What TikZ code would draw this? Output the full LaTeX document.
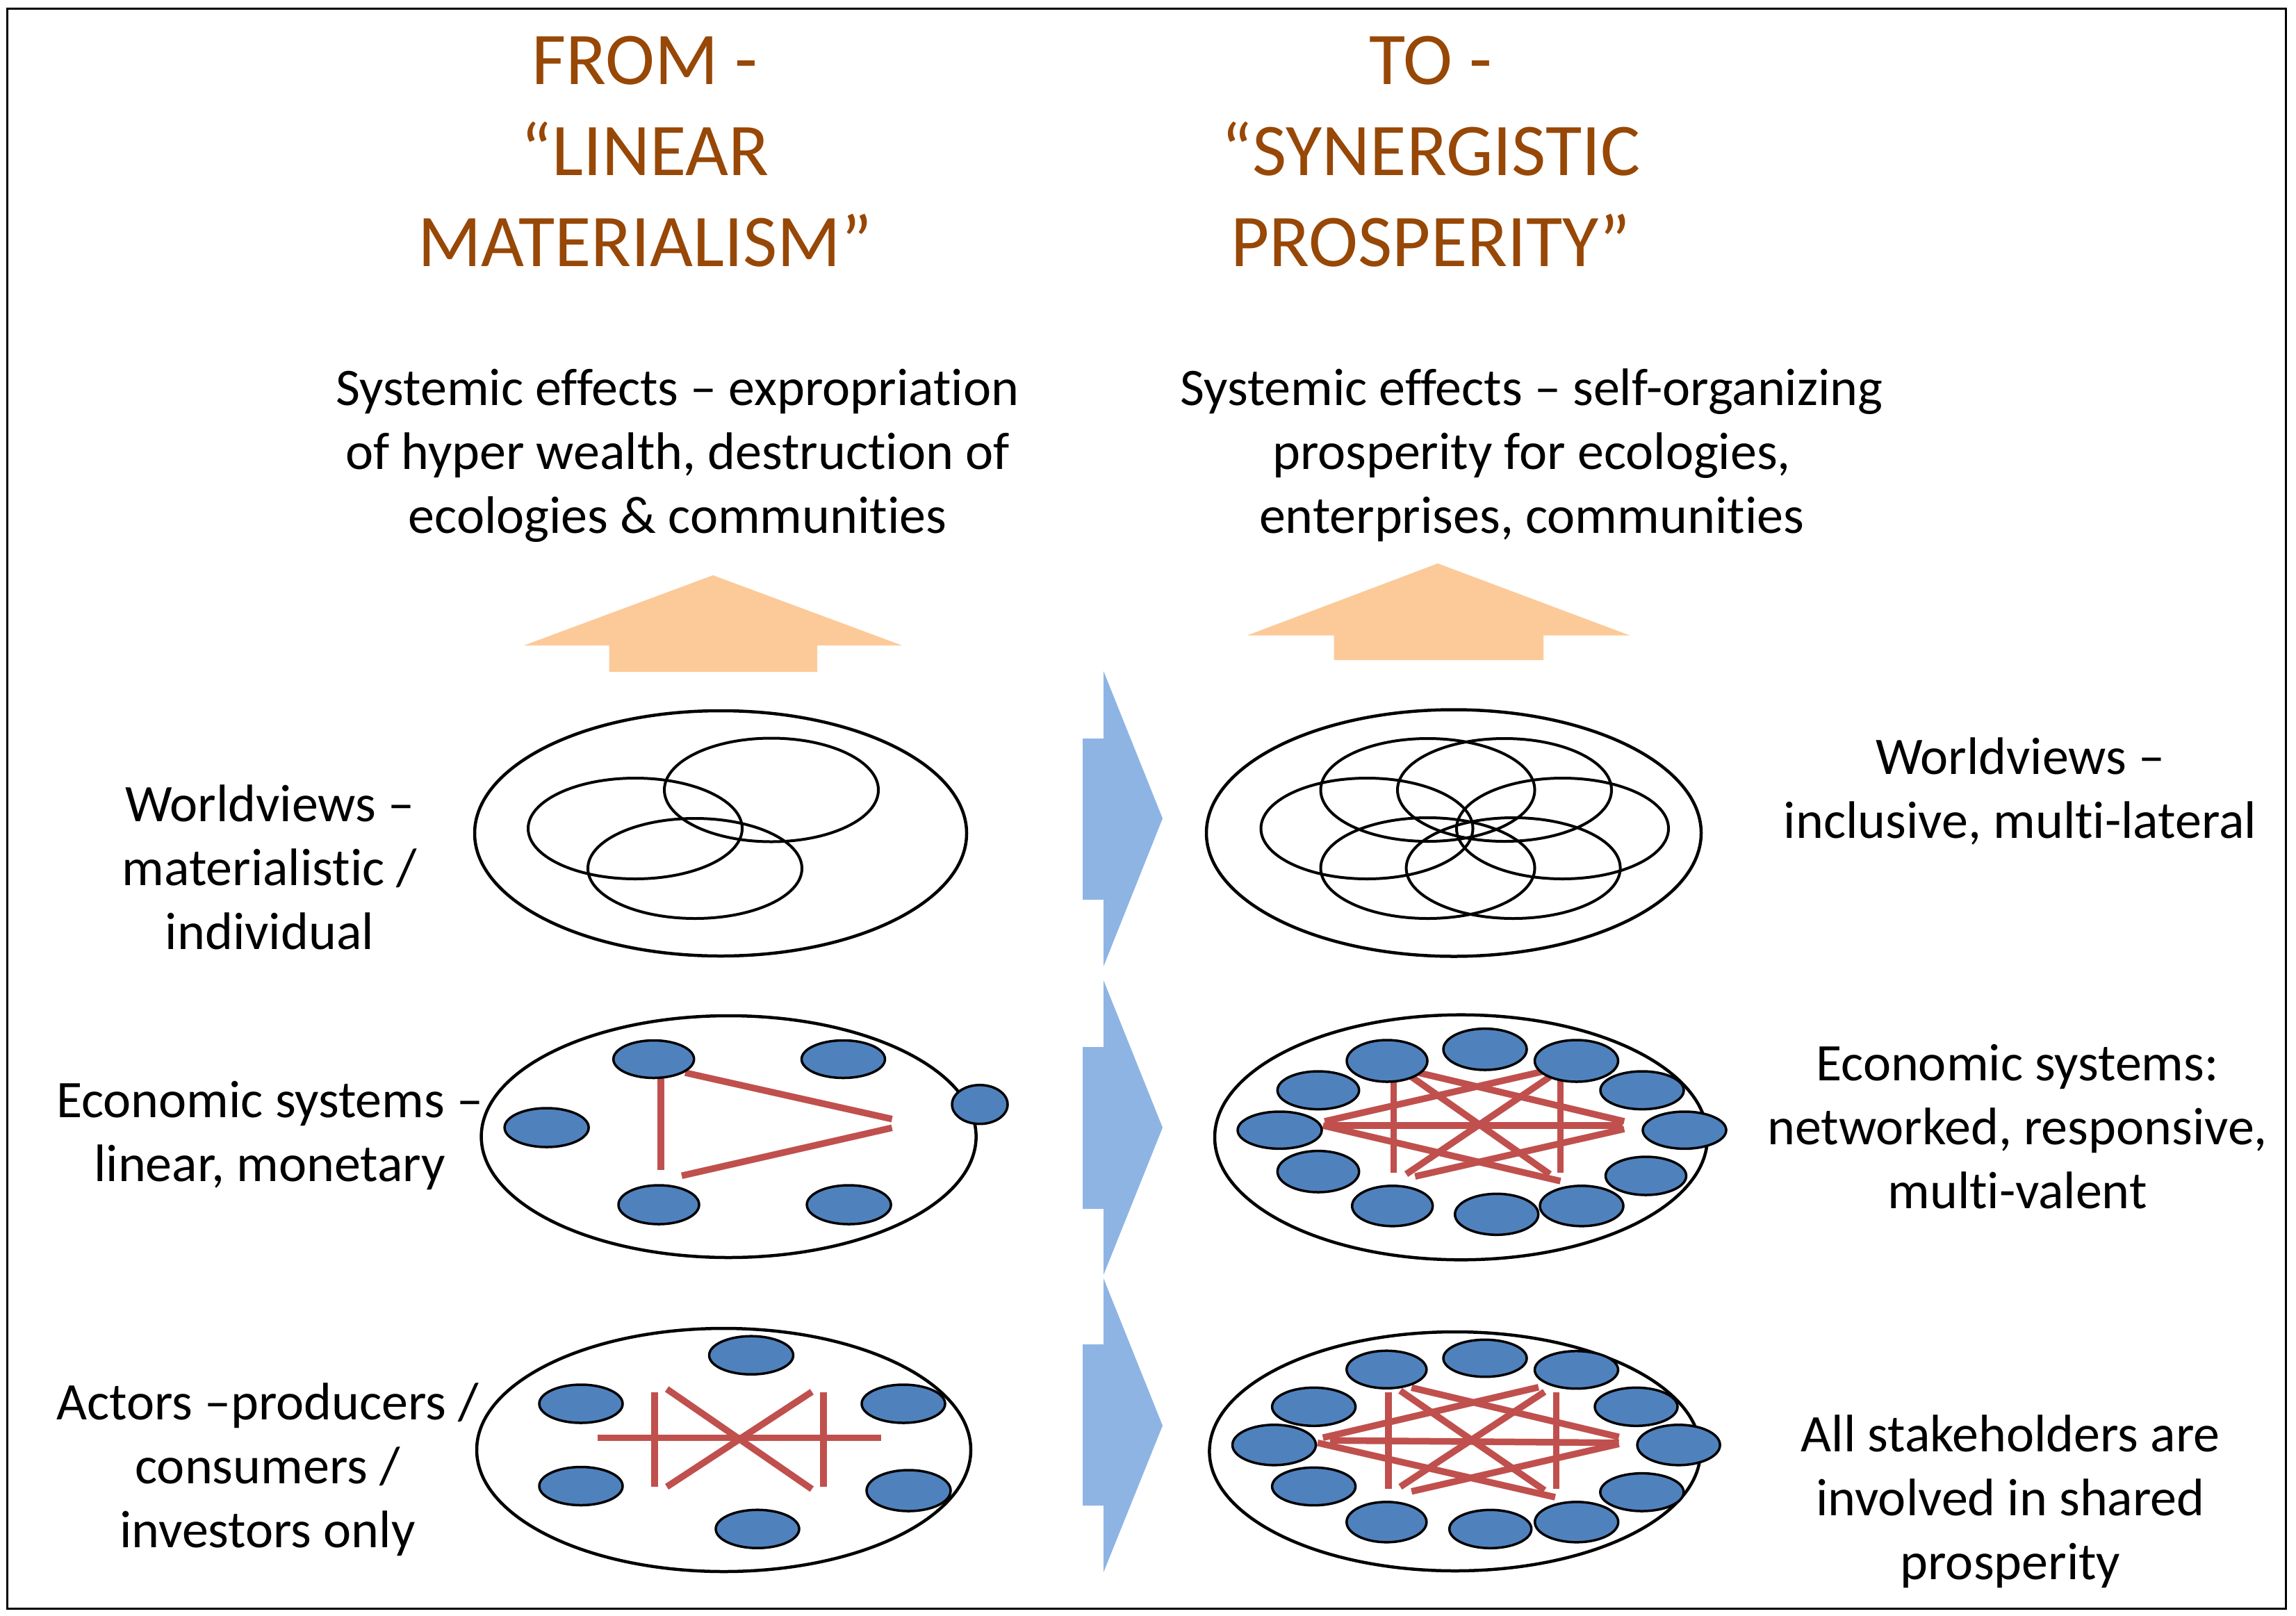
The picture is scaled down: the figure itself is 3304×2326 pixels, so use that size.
\documentclass[tikz,border=0pt]{standalone}
\usepackage{fontspec}
\setmainfont{Carlito}[Ligatures=NoCommon]
\definecolor{titlebrown}{RGB}{151,71,6}
\definecolor{peach}{RGB}{252,202,152}
\definecolor{skyblue}{RGB}{142,180,227}
\definecolor{agentblue}{RGB}{79,129,189}
\definecolor{tiered}{RGB}{192,80,77}
\begin{document}
\begin{tikzpicture}[x=1pt,y=-1pt,
  frame/.style={draw=black,line width=3pt},
  title/.style={text=titlebrown,font=\fontsize{107}{131}\selectfont,align=center,anchor=base,inner sep=0pt},
  body/.style={font=\fontsize{76}{92}\selectfont,align=center,anchor=base,inner sep=0pt},
  outer/.style={draw=black,line width=4.5pt},
  ring/.style={draw=black,line width=4pt},
  agent/.style={draw=black,fill=agentblue,line width=3.5pt},
  tie/.style={draw=tiered,line width=9.5pt},
  uparrow/.style={fill=peach},
  rarrow/.style={fill=skyblue}]
\useasboundingbox (0,0) rectangle (3304,2326);
\fill[white] (0,0) rectangle (3304,2326);
\draw[frame] (10,12) rectangle (3289,2315);

% titles (anchor = baseline of last line)
\node[title] (fromtitle) at (928,383) {FROM -\\“LINEAR\\MATERIALISM”};
\node[title] (totitle) at (2059,383) {TO -\\“SYNERGISTIC\\PROSPERITY”};

% systemic effects
\node[body] (fromfx) at (975,767) {Systemic effects – expropriation\\of hyper wealth, destruction of\\ecologies \& communities};
\node[body] (tofx) at (2204,767) {Systemic effects – self-organizing\\prosperity for ecologies,\\enterprises, communities};

% side labels
\node[body] (wvl) at (388,1366) {Worldviews –\\materialistic /\\individual};
\node[body] (ecl) at (388,1700) {Economic systems –\\linear, monetary};
\node[body] (acl) at (385,2227) {Actors –producers /\\consumers /\\investors only};
\node[body] (wvr) at (2907,1206) {Worldviews –\\inclusive, multi-lateral};
\node[body] (ecr) at (2903,1739) {Economic systems:\\networked, responsive,\\multi-valent};
\node[body] (acr) at (2893,2273) {All stakeholders are\\involved in shared\\prosperity};

% up arrows
\fill[uparrow] (754,929) -- (1026,828) -- (1298,929) -- (1176,929) -- (1176,967) -- (876.5,967) -- (876.5,929) -- cycle;
\fill[uparrow] (1795,914.5) -- (2069,811) -- (2345,914.5) -- (2221,914.5) -- (2221,950) -- (1919.5,950) -- (1919.5,914.5) -- cycle;

% right arrows
\fill[rarrow] (1558,1063) -- (1588,1063) -- (1588,966) -- (1673,1178) -- (1588,1391) -- (1588,1295) -- (1558,1295) -- cycle;
\fill[rarrow] (1558,1507) -- (1588,1507) -- (1588,1411) -- (1673,1623) -- (1588,1835) -- (1588,1740) -- (1558,1740) -- cycle;
\fill[rarrow] (1558,1935) -- (1588,1935) -- (1588,1840) -- (1673,2052) -- (1588,2263) -- (1588,2167) -- (1558,2167) -- cycle;

% worldviews left
\draw[outer] (1037,1199.5) ellipse [x radius=354pt, y radius=176.5pt];
\draw[ring] (914,1192.5) ellipse [x radius=154pt, y radius=72.5pt];
\draw[ring] (1110,1137) ellipse [x radius=154pt, y radius=74.5pt];
\draw[ring] (1000,1250) ellipse [x radius=154pt, y radius=72pt];

% worldviews right
\draw[outer] (2092,1199) ellipse [x radius=356pt, y radius=177.5pt];
\draw[ring] (2054.5,1137) ellipse [x radius=154pt, y radius=74pt];
\draw[ring] (2165,1137) ellipse [x radius=154pt, y radius=74pt];
\draw[ring] (1967,1192.5) ellipse [x radius=152.5pt, y radius=72.5pt];
\draw[ring] (2248.5,1192.5) ellipse [x radius=152.5pt, y radius=72.5pt];
\draw[ring] (2054.5,1249.5) ellipse [x radius=154pt, y radius=72.5pt];
\draw[ring] (2177.6,1249.5) ellipse [x radius=154pt, y radius=72.5pt];

% economic systems left
\draw[outer] (1048.6,1636) ellipse [x radius=356pt, y radius=174pt];
\draw[tie] (951,1551.7) -- (951,1684.3);
\draw[tie] (986,1544) -- (1283.6,1610.7);
\draw[tie] (981,1692.3) -- (1283.6,1623.3);
\draw[agent] (940.7,1524.5) ellipse [x radius=58pt, y radius=27pt];
\draw[agent] (1213.5,1524.5) ellipse [x radius=60pt, y radius=27pt];
\draw[agent] (786.6,1623) ellipse [x radius=60.5pt, y radius=28pt];
\draw[agent] (1410,1589.7) ellipse [x radius=40pt, y radius=28pt];
\draw[agent] (948,1734) ellipse [x radius=58pt, y radius=28pt];
\draw[agent] (1221.6,1734) ellipse [x radius=60.5pt, y radius=28pt];

% actors left
\draw[outer] (1041.5,2087) ellipse [x radius=355.5pt, y radius=175pt];
\draw[tie] (860,2069.3) -- (1267.8,2069.3);
\draw[tie] (942.2,2004) -- (942.2,2140);
\draw[tie] (1185,2004) -- (1185,2140);
\draw[tie] (959.6,1999.3) -- (1168.3,2143.3);
\draw[tie] (959.6,2140) -- (1168.3,2003.3);
\draw[agent] (1081,1950.7) ellipse [x radius=60.5pt, y radius=27.5pt];
\draw[agent] (836,2020.5) ellipse [x radius=60pt, y radius=27.5pt];
\draw[agent] (1300,2020.5) ellipse [x radius=60pt, y radius=27.5pt];
\draw[agent] (836,2139) ellipse [x radius=60pt, y radius=27.5pt];
\draw[agent] (1307.5,2145.5) ellipse [x radius=60.5pt, y radius=29.5pt];
\draw[agent] (1090,2200.7) ellipse [x radius=60pt, y radius=27.5pt];

% economic systems right
\draw[outer] (2102.5,1637) ellipse [x radius=354.5pt, y radius=176.3pt];
\draw[tie] (1906.2,1614) -- (2222.6,1541.7);
\draw[tie] (2041.4,1544) -- (2337.3,1614);
\draw[tie] (1908.8,1620) -- (2334.8,1620);
\draw[tie] (1903.7,1620) -- (2245.5,1700);
\draw[tie] (2036.3,1693.3) -- (2337.3,1625);
\draw[tie] (2005.7,1556.7) -- (2005.7,1688.3);
\draw[tie] (2245.5,1555) -- (2245.5,1688.3);
\draw[tie] (2031.2,1550) -- (2230.2,1690);
\draw[tie] (2230.2,1550) -- (2023.6,1690);
\draw[agent] (2137,1510.3) ellipse [x radius=60pt, y radius=29.7pt];
\draw[agent] (1996,1527) ellipse [x radius=58pt, y radius=30pt];
\draw[agent] (2268.5,1527) ellipse [x radius=60pt, y radius=30pt];
\draw[agent] (1897,1569.3) ellipse [x radius=58.7pt, y radius=27.3pt];
\draw[agent] (2363,1569.3) ellipse [x radius=60pt, y radius=27.3pt];
\draw[agent] (1841.5,1626.7) ellipse [x radius=60.5pt, y radius=26.7pt];
\draw[agent] (2424,1626.7) ellipse [x radius=60pt, y radius=26.7pt];
\draw[agent] (1897,1686.3) ellipse [x radius=58.7pt, y radius=29.7pt];
\draw[agent] (2368.5,1692.5) ellipse [x radius=58pt, y radius=27.5pt];
\draw[agent] (2003.7,1735.8) ellipse [x radius=58pt, y radius=29pt];
\draw[agent] (2153.7,1747.8) ellipse [x radius=60pt, y radius=29.5pt];
\draw[agent] (2276,1735.8) ellipse [x radius=60pt, y radius=29pt];

% actors right
\draw[outer] (2093.7,2089) ellipse [x radius=353.3pt, y radius=172pt];
\draw[tie] (1903.7,2069.3) -- (2213.9,1996.7);
\draw[tie] (2031.2,1997.3) -- (2329.7,2068.3);
\draw[tie] (1913.9,2073.3) -- (2329.7,2076.7);
\draw[tie] (1896,2076.7) -- (2237.9,2155);
\draw[tie] (2031.2,2146.7) -- (2329.7,2078.3);
\draw[tie] (1998,2004) -- (1998,2143.3);
\draw[tie] (2239.4,2004) -- (2239.4,2143.3);
\draw[tie] (2015,2001.7) -- (2222.6,2145);
\draw[tie] (2222.6,2003.3) -- (2015,2140);
\draw[agent] (2137,1955) ellipse [x radius=60pt, y radius=26.7pt];
\draw[agent] (1995.3,1971.2) ellipse [x radius=57.5pt, y radius=27pt];
\draw[agent] (2268.5,1971.7) ellipse [x radius=60pt, y radius=27pt];
\draw[agent] (1890.6,2024.8) ellipse [x radius=60pt, y radius=27.5pt];
\draw[agent] (2354.5,2024.8) ellipse [x radius=59.5pt, y radius=27.5pt];
\draw[agent] (1833.5,2079.8) ellipse [x radius=60pt, y radius=29pt];
\draw[agent] (2415.6,2079.8) ellipse [x radius=59.5pt, y radius=29pt];
\draw[agent] (1890.6,2139.5) ellipse [x radius=60pt, y radius=27.2pt];
\draw[agent] (2362.8,2147.8) ellipse [x radius=60pt, y radius=27.2pt];
\draw[agent] (1995.3,2190.8) ellipse [x radius=57.5pt, y radius=29pt];
\draw[agent] (2144.7,2200.8) ellipse [x radius=59pt, y radius=27.5pt];
\draw[agent] (2268.7,2190.8) ellipse [x radius=60pt, y radius=29pt];
\end{tikzpicture}
\end{document}
